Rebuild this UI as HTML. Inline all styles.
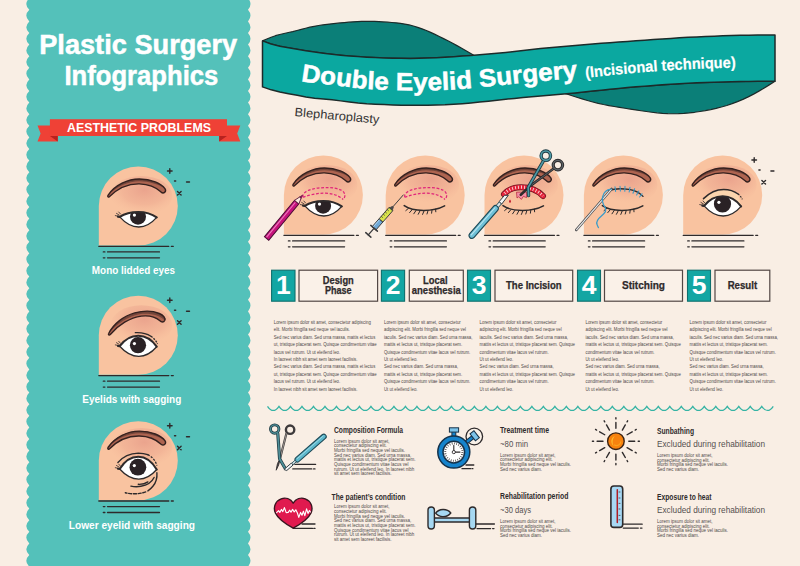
<!DOCTYPE html>
<html lang="en"><head><meta charset="utf-8"><title>Plastic Surgery Infographics</title>
<style>html,body{margin:0;padding:0;background:#F9EEE4;}svg{display:block;}text{font-family:"Liberation Sans", sans-serif;}</style>
</head><body>
<svg width="800" height="566" viewBox="0 0 800 566">
<defs>
<radialGradient id="lid" cx="0.55" cy="0.35" r="0.6"><stop offset="0" stop-color="#E89E8A" stop-opacity="0.85"/><stop offset="0.6" stop-color="#ECA68E" stop-opacity="0.48"/><stop offset="1" stop-color="#F4B89A" stop-opacity="0"/></radialGradient>
</defs>
<rect width="800" height="566" fill="#F9EEE4"/>
<path d="M248,-1.8 Q253,4 248,9.8 Q253,15.6 248,21.4 Q253,27.2 248,33 Q253,38.8 248,44.6 Q253,50.4 248,56.2 Q253,62 248,67.8 Q253,73.6 248,79.4 Q253,85.2 248,91 Q253,96.8 248,102.6 Q253,108.4 248,114.2 Q253,120 248,125.8 Q253,131.6 248,137.4 Q253,143.2 248,149 Q253,154.8 248,160.6 Q253,166.4 248,172.2 Q253,178 248,183.8 Q253,189.6 248,195.4 Q253,201.2 248,207 Q253,212.8 248,218.6 Q253,224.4 248,230.2 Q253,236 248,241.8 Q253,247.6 248,253.4 Q253,259.2 248,265 Q253,270.8 248,276.6 Q253,282.4 248,288.2 Q253,294 248,299.8 Q253,305.6 248,311.4 Q253,317.2 248,323 Q253,328.8 248,334.6 Q253,340.4 248,346.2 Q253,352 248,357.8 Q253,363.6 248,369.4 Q253,375.2 248,381 Q253,386.8 248,392.6 Q253,398.4 248,404.2 Q253,410 248,415.8 Q253,421.6 248,427.4 Q253,433.2 248,439 Q253,444.8 248,450.6 Q253,456.4 248,462.2 Q253,468 248,473.8 Q253,479.6 248,485.4 Q253,491.2 248,497 Q253,502.8 248,508.6 Q253,514.4 248,520.2 Q253,526 248,531.8 Q253,537.6 248,543.4 Q253,549.2 248,555 Q253,560.8 248,566.6 Q253,572.4 248,578.2 L29.3,578.2 Q23.3,572.4 29.3,566.6 Q23.3,560.8 29.3,555 Q23.3,549.2 29.3,543.4 Q23.3,537.6 29.3,531.8 Q23.3,526 29.3,520.2 Q23.3,514.4 29.3,508.6 Q23.3,502.8 29.3,497 Q23.3,491.2 29.3,485.4 Q23.3,479.6 29.3,473.8 Q23.3,468 29.3,462.2 Q23.3,456.4 29.3,450.6 Q23.3,444.8 29.3,439 Q23.3,433.2 29.3,427.4 Q23.3,421.6 29.3,415.8 Q23.3,410 29.3,404.2 Q23.3,398.4 29.3,392.6 Q23.3,386.8 29.3,381 Q23.3,375.2 29.3,369.4 Q23.3,363.6 29.3,357.8 Q23.3,352 29.3,346.2 Q23.3,340.4 29.3,334.6 Q23.3,328.8 29.3,323 Q23.3,317.2 29.3,311.4 Q23.3,305.6 29.3,299.8 Q23.3,294 29.3,288.2 Q23.3,282.4 29.3,276.6 Q23.3,270.8 29.3,265 Q23.3,259.2 29.3,253.4 Q23.3,247.6 29.3,241.8 Q23.3,236 29.3,230.2 Q23.3,224.4 29.3,218.6 Q23.3,212.8 29.3,207 Q23.3,201.2 29.3,195.4 Q23.3,189.6 29.3,183.8 Q23.3,178 29.3,172.2 Q23.3,166.4 29.3,160.6 Q23.3,154.8 29.3,149 Q23.3,143.2 29.3,137.4 Q23.3,131.6 29.3,125.8 Q23.3,120 29.3,114.2 Q23.3,108.4 29.3,102.6 Q23.3,96.8 29.3,91 Q23.3,85.2 29.3,79.4 Q23.3,73.6 29.3,67.8 Q23.3,62 29.3,56.2 Q23.3,50.4 29.3,44.6 Q23.3,38.8 29.3,33 Q23.3,27.2 29.3,21.4 Q23.3,15.6 29.3,9.8 Q23.3,4 29.3,-1.8 Z" fill="#54C1BA"/>
<g fill="#fff" stroke="#fff" stroke-width="0.5" font-weight="bold" text-anchor="middle">
<text x="138.2" y="53.7" font-size="26.8" textLength="198" lengthAdjust="spacingAndGlyphs">Plastic Surgery</text>
<text x="141.4" y="84.6" font-size="26.8" textLength="153.8" lengthAdjust="spacingAndGlyphs">Infographics</text>
</g>
<path d="M37.5,125.5 H57.75 V141.4 H37.5 L40.6,133.4 Z" fill="#EF4136"/>
<path d="M240.3,125.5 H219.2 V141.4 H240.3 L237.2,133.4 Z" fill="#EF4136"/>
<path d="M49.9,135.9 H57.75 V141.4 Z M227,135.9 H219.2 V141.4 Z" fill="#B8221F"/>
<rect x="49.9" y="119.2" width="177.1" height="16.8" fill="#EF4136"/>
<text x="139" y="132.4" font-size="13.6" font-weight="bold" fill="#fff" text-anchor="middle" textLength="144" lengthAdjust="spacingAndGlyphs">AESTHETIC PROBLEMS</text>
<g transform="translate(138.3,206)">
<path d="M-39.5,39.5 L-39.5,0 A39.5,39.5 0 1 1 0,39.5 Z" fill="#F9C3A0"/>
<ellipse cx="3" cy="-10" rx="31" ry="20" fill="url(#lid)"/>
<g>
<path d="M-30.3,-10.6 C-23.5,-21.3 -10,-27 1,-27 C13,-27 23,-22.5 26.8,-17.2 C28.4,-14.2 25.2,-11.8 22.8,-13.9 C17,-19.4 9,-21.9 1,-22.1 C-10,-22.3 -21,-17.2 -29,-9.2 C-30,-8.4 -31,-9.4 -30.3,-10.6 Z" fill="#AE6450"/>
<path d="M-30.3,-10.6 C-23.5,-21.3 -10,-27 1,-27 C13,-27 23,-22.5 26.8,-17.2 C21,-21.6 11,-24.8 1,-24.8 C-10,-24.8 -22,-19.4 -30.3,-10.6 Z" fill="#74453A"/>
<path d="M-30.3,-10.6 C-23.5,-21.3 -10,-27 1,-27 C13,-27 23,-22.5 26.8,-17.2 C28.4,-14.2 25.2,-11.8 22.8,-13.9 C17,-19.4 9,-21.9 1,-22.1 C-10,-22.3 -21,-17.2 -29,-9.2 C-30,-8.4 -31,-9.4 -30.3,-10.6 Z" fill="none" stroke="#35211F" stroke-width="1.4" stroke-linejoin="round"/>
</g>
<g transform="translate(0,0)">
<clipPath id="ec1"><path d="M-18.6,10.9 C-13,7.22 -6,6 0,6 C6.5,6 13,7.51 18.4,11.4 C13,17.6 7,21 0.5,21 C-7,21 -13.5,16.6 -18.6,10.9 Z"/></clipPath>
<path d="M-18.6,10.9 C-13,7.22 -6,6 0,6 C6.5,6 13,7.51 18.4,11.4 C13,17.6 7,21 0.5,21 C-7,21 -13.5,16.6 -18.6,10.9 Z" fill="#fff"/>
<g clip-path="url(#ec1)"><circle cx="-0.3" cy="10.7" r="8" fill="#2A2225"/><circle cx="-3.9" cy="9.1" r="1.6" fill="#fff"/></g>
<path d="M18.4,11.4 C13,17.6 7,21 0.5,21 C-7,21 -13.5,16.6 -18.6,10.9" fill="none" stroke="#2E2A2B" stroke-width="1.3" stroke-linecap="round"/>
<path d="M-20.4,10.6 L-18.6,10.9 C-13,7.22 -6,6 0,6 C6.5,6 13,7.51 18.4,11.4" fill="none" stroke="#2E2A2B" stroke-width="2.1" stroke-linecap="round" stroke-linejoin="round"/>
<path d="M-20,10.2 L-23,9.6 M-19.2,9 L-21.8,7.4 M-17.8,8 L-19.6,6" stroke="#2E2A2B" stroke-width="0.8" stroke-linecap="round"/>
</g>
<g stroke="#2E2A2B" stroke-width="1.4" stroke-linecap="round" fill="none">
<path d="M29.2,-35 H33.8 M31.5,-37.3 V-32.7"/>
<path d="M36.2,-25 H37.4"/>
<path d="M48.2,-24 H51.2"/>
<path d="M39.2,-14.5 L42.8,-11 M42.8,-14.5 L39.2,-11"/>
</g>
<g stroke="#2E2A2B" stroke-width="1.3" stroke-linecap="round" fill="none">
<path d="M-39.5,40.3 H30.5 M33,40.3 H35"/>
<path d="M-35,45.9 H-33.4 M-30.8,45.9 H21.2"/>
<path d="M-35,51.8 H-33.4 M-30.8,51.8 H21.2"/>
</g>
</g>
<text x="133.5" y="273.7" font-size="11.3" font-weight="bold" fill="#fff" text-anchor="middle" textLength="83.3" lengthAdjust="spacingAndGlyphs">Mono lidded eyes</text>
<g transform="translate(138.3,335.3)">
<path d="M-39.5,39.5 L-39.5,0 A39.5,39.5 0 1 1 0,39.5 Z" fill="#F9C3A0"/>
<ellipse cx="3" cy="-10" rx="31" ry="20" fill="url(#lid)"/>
<g>
<path d="M-29.6,-1.8 C-25,-11 -15,-19.3 -3.6,-22.4 C5,-24.7 15,-24.4 21,-21.8 C25,-20 27.6,-17.4 26.4,-14.8 C25.4,-12.8 23,-13 21.6,-14.6 C17,-18.6 10,-20 3,-19.2 C-8,-17.8 -20,-10.4 -28,-0.8 C-29,0.2 -30.4,-0.4 -29.6,-1.8 Z" fill="#AE6450"/>
<path d="M-29.6,-1.8 C-25,-11 -15,-19.3 -3.6,-22.4 C5,-24.7 15,-24.4 21,-21.8 C25,-20 27.6,-17.4 26.4,-14.8 C22,-19.6 12,-22.6 1,-21 C-10,-19.2 -22,-11.2 -29.6,-1.8 Z" fill="#74453A"/>
<path d="M-29.6,-1.8 C-25,-11 -15,-19.3 -3.6,-22.4 C5,-24.7 15,-24.4 21,-21.8 C25,-20 27.6,-17.4 26.4,-14.8 C25.4,-12.8 23,-13 21.6,-14.6 C17,-18.6 10,-20 3,-19.2 C-8,-17.8 -20,-10.4 -28,-0.8 C-29,0.2 -30.4,-0.4 -29.6,-1.8 Z" fill="none" stroke="#35211F" stroke-width="1.4" stroke-linejoin="round"/>
</g>
<path d="M-3,-2.6 C4,-3 9,-1.4 12.6,1" fill="none" stroke="#2E2A2B" stroke-width="1.3" stroke-linecap="round"/>
<path d="M12.6,1 C15.6,3 17.8,5.6 19.2,8.6" fill="none" stroke="#2E2A2B" stroke-width="1.3" stroke-dasharray="2 1.2"/>
<g transform="translate(0,0)">
<clipPath id="ec2"><path d="M-18.6,10.9 C-13,3.03 -6,0.4 0,0.4 C6.5,0.4 13,3.48 18.4,11.4 C13,17.6 7,21 0.5,21 C-7,21 -13.5,16.6 -18.6,10.9 Z"/></clipPath>
<path d="M-18.6,10.9 C-13,3.03 -6,0.4 0,0.4 C6.5,0.4 13,3.48 18.4,11.4 C13,17.6 7,21 0.5,21 C-7,21 -13.5,16.6 -18.6,10.9 Z" fill="#fff"/>
<g clip-path="url(#ec2)"><circle cx="-0.3" cy="9.9" r="8.1" fill="#2A2225"/><circle cx="-3.9" cy="8.3" r="1.6" fill="#fff"/></g>
<path d="M18.4,11.4 C13,17.6 7,21 0.5,21 C-7,21 -13.5,16.6 -18.6,10.9" fill="none" stroke="#2E2A2B" stroke-width="1.3" stroke-linecap="round"/>
<path d="M-20.4,10.6 L-18.6,10.9 C-13,3.03 -6,0.4 0,0.4 C6.5,0.4 13,3.48 18.4,11.4" fill="none" stroke="#2E2A2B" stroke-width="2.1" stroke-linecap="round" stroke-linejoin="round"/>
<path d="M-20,10.2 L-23,9.6 M-19.2,9 L-21.8,7.4 M-17.8,8 L-19.6,6" stroke="#2E2A2B" stroke-width="0.8" stroke-linecap="round"/>
</g>
<g stroke="#2E2A2B" stroke-width="1.4" stroke-linecap="round" fill="none">
<path d="M29.2,-35 H33.8 M31.5,-37.3 V-32.7"/>
<path d="M36.2,-25 H37.4"/>
<path d="M48.2,-24 H51.2"/>
<path d="M39.2,-14.5 L42.8,-11 M42.8,-14.5 L39.2,-11"/>
</g>
<g stroke="#2E2A2B" stroke-width="1.3" stroke-linecap="round" fill="none">
<path d="M-39.5,40.3 H30.5 M33,40.3 H35"/>
<path d="M-35,45.9 H-33.4 M-30.8,45.9 H21.2"/>
<path d="M-35,51.8 H-33.4 M-30.8,51.8 H21.2"/>
</g>
</g>
<text x="131.8" y="402.8" font-size="11.3" font-weight="bold" fill="#fff" text-anchor="middle" textLength="99" lengthAdjust="spacingAndGlyphs">Eyelids with sagging</text>
<g transform="translate(138.3,460.7)">
<path d="M-39.5,39.5 L-39.5,0 A39.5,39.5 0 1 1 0,39.5 Z" fill="#F9C3A0"/>
<ellipse cx="3" cy="-12.6" rx="31" ry="20" fill="url(#lid)"/>
<g transform="translate(0,-2.6)">
<path d="M-30.3,-10.6 C-23.5,-21.3 -10,-27 1,-27 C13,-27 23,-22.5 26.8,-17.2 C28.4,-14.2 25.2,-11.8 22.8,-13.9 C17,-19.4 9,-21.9 1,-22.1 C-10,-22.3 -21,-17.2 -29,-9.2 C-30,-8.4 -31,-9.4 -30.3,-10.6 Z" fill="#AE6450"/>
<path d="M-30.3,-10.6 C-23.5,-21.3 -10,-27 1,-27 C13,-27 23,-22.5 26.8,-17.2 C21,-21.6 11,-24.8 1,-24.8 C-10,-24.8 -22,-19.4 -30.3,-10.6 Z" fill="#74453A"/>
<path d="M-30.3,-10.6 C-23.5,-21.3 -10,-27 1,-27 C13,-27 23,-22.5 26.8,-17.2 C28.4,-14.2 25.2,-11.8 22.8,-13.9 C17,-19.4 9,-21.9 1,-22.1 C-10,-22.3 -21,-17.2 -29,-9.2 C-30,-8.4 -31,-9.4 -30.3,-10.6 Z" fill="none" stroke="#35211F" stroke-width="1.4" stroke-linejoin="round"/>
</g>
<path d="M-20.4,1.8 C-15,-4.5 -8,-7.4 0,-7.6 C4,-7.6 7,-7 9.4,-6" fill="none" stroke="#2E2A2B" stroke-width="1.4" stroke-linecap="round"/>
<path d="M9.4,-6 C14,-4 17.4,0 18.6,5" fill="none" stroke="#2E2A2B" stroke-width="1.3" stroke-dasharray="2.2 1.3"/>
<g fill="none" stroke="#2E2A2B" stroke-width="1.4" stroke-linecap="round">
<path d="M18.6,12 C19,17 17.6,22 14.6,25.6 C13,27.6 11.4,29 9.6,30.2"/>
<path d="M7.4,31.2 C1,33.6 -7,33.6 -13,32" stroke-dasharray="3 1.7"/>
<path d="M15.8,16.8 C13.4,21.6 8.6,24.6 2.6,25.6 C-1,26.2 -4.6,26 -7.4,25.4"/>
<path d="M9.6,21.2 C7,23 3.6,23.8 0,23.6"/>
</g>
<g transform="translate(0,-2.6)">
<clipPath id="ec3"><path d="M-18.6,10.9 C-13,1.67 -6,-1.4 0,-1.4 C6.5,-1.4 13,2.18 18.4,11.4 C13,17.6 7,21 0.5,21 C-7,21 -13.5,16.6 -18.6,10.9 Z"/></clipPath>
<path d="M-18.6,10.9 C-13,1.67 -6,-1.4 0,-1.4 C6.5,-1.4 13,2.18 18.4,11.4 C13,17.6 7,21 0.5,21 C-7,21 -13.5,16.6 -18.6,10.9 Z" fill="#fff"/>
<g clip-path="url(#ec3)"><circle cx="-0.4" cy="9.1" r="8.4" fill="#2A2225"/><circle cx="-4" cy="7.5" r="1.6" fill="#fff"/></g>
<path d="M18.4,11.4 C13,17.6 7,21 0.5,21 C-7,21 -13.5,16.6 -18.6,10.9" fill="none" stroke="#2E2A2B" stroke-width="1.3" stroke-linecap="round"/>
<path d="M-20.4,10.6 L-18.6,10.9 C-13,1.67 -6,-1.4 0,-1.4 C6.5,-1.4 13,2.18 18.4,11.4" fill="none" stroke="#2E2A2B" stroke-width="2.1" stroke-linecap="round" stroke-linejoin="round"/>
<path d="M-20,10.2 L-23,9.6 M-19.2,9 L-21.8,7.4 M-17.8,8 L-19.6,6" stroke="#2E2A2B" stroke-width="0.8" stroke-linecap="round"/>
</g>
<g stroke="#2E2A2B" stroke-width="1.4" stroke-linecap="round" fill="none">
<path d="M29.2,-35 H33.8 M31.5,-37.3 V-32.7"/>
<path d="M36.2,-25 H37.4"/>
<path d="M48.2,-24 H51.2"/>
<path d="M39.2,-14.5 L42.8,-11 M42.8,-14.5 L39.2,-11"/>
</g>
<g stroke="#2E2A2B" stroke-width="1.3" stroke-linecap="round" fill="none">
<path d="M-39.5,40.3 H30.5 M33,40.3 H35"/>
<path d="M-35,45.9 H-33.4 M-30.8,45.9 H21.2"/>
<path d="M-35,51.8 H-33.4 M-30.8,51.8 H21.2"/>
</g>
</g>
<text x="131.9" y="529" font-size="11.3" font-weight="bold" fill="#fff" text-anchor="middle" textLength="126.3" lengthAdjust="spacingAndGlyphs">Lower eyelid with sagging</text>
<path d="M262.5,40.9 L266.81,38.99 L271.12,37.21 L275.43,35.7 L279.74,34.48 L284.06,33.46 L288.37,32.52 L292.68,31.56 L296.99,30.49 L301.3,29.36 L305.61,28.24 L309.92,27.2 L314.23,26.29 L318.55,25.53 L322.86,24.89 L327.17,24.33 L331.48,23.83 L335.79,23.38 L340.1,22.96 L344.41,22.57 L348.72,22.2 L353.04,21.87 L357.35,21.58 L361.66,21.37 L365.97,21.26 L370.28,21.28 L374.59,21.41 L378.9,21.63 L383.21,21.9 L387.53,22.18 L391.84,22.48 L396.15,22.85 L400.46,23.36 L404.77,24.06 L409.08,24.95 L413.39,26.04 L417.7,27.35 L422.02,28.85 L426.33,30.54 L430.64,32.4 L434.95,34.38 L439.26,36.45 L443.57,38.59 L447.88,40.79 L452.19,43.06 L456.51,45.4 L460.82,47.8 L465.13,50.25 L469.44,52.74 L473.75,55.25 L473.75,55.25 L466.47,55.79 L459.18,56.31 L451.9,56.79 L444.61,57.23 L437.33,57.61 L430.04,57.93 L422.76,58.18 L415.47,58.34 L408.19,58.41 L400.91,58.36 L393.62,58.22 L386.34,58 L379.05,57.74 L371.77,57.42 L364.48,57.03 L357.2,56.56 L349.91,56 L342.63,55.33 L335.34,54.59 L328.06,53.78 L320.78,52.92 L313.49,51.94 L306.21,50.78 L298.92,49.51 L291.64,48.26 L284.35,47.04 L277.07,45.56 L269.78,43.48 L262.5,40.9 Z" fill="#0B7F78" stroke="#1C2B2A" stroke-width="1.2" stroke-linejoin="round"/>
<path d="M566,93.75 L571.36,95.5 L576.72,97.22 L582.08,98.89 L587.44,100.48 L592.79,101.96 L598.15,103.32 L603.51,104.52 L608.87,105.57 L614.23,106.52 L619.59,107.39 L624.95,108.22 L630.31,109.05 L635.67,109.89 L641.03,110.72 L646.38,111.51 L651.74,112.22 L657.1,112.83 L662.46,113.31 L667.82,113.62 L673.18,113.75 L678.54,113.67 L683.9,113.38 L689.26,112.91 L694.62,112.28 L699.97,111.5 L705.33,110.61 L710.69,109.58 L716.05,108.39 L721.41,107.02 L726.77,105.46 L732.13,103.68 L737.49,101.67 L742.85,99.41 L748.21,96.9 L753.56,94.12 L758.92,91.11 L764.28,87.92 L769.64,84.62 L775,81.25 L775,81.25 L767.79,81.28 L760.59,81.32 L753.38,81.37 L746.17,81.44 L738.97,81.55 L731.76,81.69 L724.55,81.85 L717.34,82.06 L710.14,82.3 L702.93,82.58 L695.72,82.89 L688.52,83.25 L681.31,83.65 L674.1,84.08 L666.9,84.54 L659.69,85.04 L652.48,85.56 L645.28,86.11 L638.07,86.69 L630.86,87.3 L623.66,87.94 L616.45,88.61 L609.24,89.33 L602.03,90.08 L594.83,90.87 L587.62,91.68 L580.41,92.46 L573.21,93.17 L566,93.84 Z" fill="#0B7F78" stroke="#1C2B2A" stroke-width="1.2" stroke-linejoin="round"/>
<path d="M262.5,40.9 L271.19,43.93 L279.87,46.18 L288.56,47.75 L297.25,49.21 L305.93,50.73 L314.62,52.1 L323.31,53.23 L331.99,54.22 L340.68,55.14 L349.36,55.95 L358.05,56.62 L366.74,57.16 L375.42,57.59 L384.11,57.93 L392.8,58.2 L401.48,58.37 L410.17,58.4 L418.86,58.28 L427.54,58.02 L436.23,57.66 L444.92,57.21 L453.6,56.68 L462.29,56.09 L470.97,55.46 L479.66,54.79 L488.35,54.08 L497.03,53.29 L505.72,52.41 L514.41,51.45 L523.09,50.47 L531.78,49.51 L540.47,48.59 L549.15,47.73 L557.84,46.91 L566.53,46.13 L575.21,45.39 L583.9,44.69 L592.58,44 L601.27,43.34 L609.96,42.7 L618.64,42.07 L627.33,41.44 L636.02,40.82 L644.7,40.19 L653.39,39.58 L662.08,38.99 L670.76,38.42 L679.45,37.87 L688.14,37.37 L696.82,36.91 L705.51,36.49 L714.19,36.13 L722.88,35.83 L731.57,35.57 L740.25,35.37 L748.94,35.21 L757.63,35.11 L766.31,35.05 L775,35 L775,81.25 L766.31,81.29 L757.63,81.33 L748.94,81.41 L740.25,81.53 L731.57,81.69 L722.88,81.9 L714.19,82.16 L705.51,82.47 L696.82,82.84 L688.14,83.27 L679.45,83.76 L670.76,84.29 L662.08,84.87 L653.39,85.5 L644.7,86.16 L636.02,86.86 L627.33,87.61 L618.64,88.41 L609.96,89.25 L601.27,90.16 L592.58,91.12 L583.9,92.09 L575.21,92.98 L566.53,93.79 L557.84,94.54 L549.15,95.26 L540.47,95.99 L531.78,96.74 L523.09,97.55 L514.41,98.41 L505.72,99.31 L497.03,100.22 L488.35,101.14 L479.66,102.03 L470.97,102.89 L462.29,103.66 L453.6,104.32 L444.92,104.8 L436.23,105.08 L427.54,105.22 L418.86,105.29 L410.17,105.3 L401.48,105.19 L392.8,104.94 L384.11,104.62 L375.42,104.23 L366.74,103.69 L358.05,102.94 L349.36,101.98 L340.68,100.87 L331.99,99.81 L323.31,98.99 L314.62,98.17 L305.93,96.92 L297.25,95.3 L288.56,93.7 L279.87,92.08 L271.19,89.85 L262.5,86.9 Z" fill="#0BA8A0" stroke="#1C2B2A" stroke-width="1.5" stroke-linejoin="round"/>
<path id="tp" d="M290,79.15 L297.97,80.63 L305.93,82.12 L313.9,83.29 L321.86,84.07 L329.83,84.78 L337.8,85.7 L345.76,86.72 L353.73,87.68 L361.69,88.48 L369.66,89.1 L377.63,89.54 L385.59,89.87 L393.56,90.17 L401.53,90.39 L409.49,90.49 L417.46,90.49 L425.42,90.44 L433.39,90.34 L441.36,90.14 L449.32,89.78 L457.29,89.26 L465.25,88.61 L473.22,87.87 L481.19,87.08 L489.15,86.25 L497.12,85.42 L505.08,84.58 L513.05,83.75 L521.02,82.95 L528.98,82.19 L536.95,81.48 L544.92,80.81 L552.88,80.15 L560.85,79.48 L568.81,78.78 L576.78,78.03 L584.75,77.19 L592.71,76.31 L600.68,75.43 L608.64,74.59 L616.61,73.8 L624.58,73.06 L632.54,72.35 L640.51,71.69 L648.47,71.07 L656.44,70.47 L664.41,69.91 L672.37,69.39 L680.34,68.9 L688.31,68.46 L696.27,68.07 L704.24,67.72 L712.2,67.42 L720.17,67.17 L728.14,66.97 L736.1,66.8 L744.07,66.67 L752.03,66.58 L760,66.52" fill="none"/>
<text font-size="25" font-weight="bold" fill="#fff" stroke="#fff" stroke-width="0.5"><textPath href="#tp" startOffset="11" textLength="278" lengthAdjust="spacingAndGlyphs">Double Eyelid Surgery</textPath></text>
<path id="tp2" d="M290,79.95 L297.97,81.43 L305.93,82.92 L313.9,84.09 L321.86,84.87 L329.83,85.58 L337.8,86.5 L345.76,87.52 L353.73,88.48 L361.69,89.28 L369.66,89.9 L377.63,90.34 L385.59,90.67 L393.56,90.97 L401.53,91.19 L409.49,91.29 L417.46,91.29 L425.42,91.24 L433.39,91.14 L441.36,90.94 L449.32,90.58 L457.29,90.06 L465.25,89.41 L473.22,88.67 L481.19,87.88 L489.15,87.05 L497.12,86.22 L505.08,85.38 L513.05,84.55 L521.02,83.75 L528.98,82.99 L536.95,82.28 L544.92,81.61 L552.88,80.95 L560.85,80.28 L568.81,79.58 L576.78,78.83 L584.75,77.99 L592.71,77.11 L600.68,76.23 L608.64,75.39 L616.61,74.6 L624.58,73.86 L632.54,73.15 L640.51,72.49 L648.47,71.87 L656.44,71.27 L664.41,70.71 L672.37,70.19 L680.34,69.7 L688.31,69.26 L696.27,68.87 L704.24,68.52 L712.2,68.22 L720.17,67.97 L728.14,67.77 L736.1,67.6 L744.07,67.47 L752.03,67.38 L760,67.32" fill="none"/>
<text font-size="15.6" font-weight="bold" fill="#fff" stroke="#fff" stroke-width="0.2"><textPath href="#tp2" startOffset="297" textLength="150.5" lengthAdjust="spacingAndGlyphs">(Incisional technique)</textPath></text>
<text x="294.3" y="116" font-size="12.2" fill="#333" transform="rotate(5.2 294.3 116)" textLength="85" lengthAdjust="spacingAndGlyphs">Blepharoplasty</text>
<g transform="translate(323.4,195)">
<path d="M-39.5,39.5 L-39.5,0 A39.5,39.5 0 1 1 0,39.5 Z" fill="#F9C3A0"/>
<ellipse cx="3" cy="-10" rx="31" ry="20" fill="url(#lid)"/>
<g>
<path d="M-30.3,-10.6 C-23.5,-21.3 -10,-27 1,-27 C13,-27 23,-22.5 26.8,-17.2 C28.4,-14.2 25.2,-11.8 22.8,-13.9 C17,-19.4 9,-21.9 1,-22.1 C-10,-22.3 -21,-17.2 -29,-9.2 C-30,-8.4 -31,-9.4 -30.3,-10.6 Z" fill="#AE6450"/>
<path d="M-30.3,-10.6 C-23.5,-21.3 -10,-27 1,-27 C13,-27 23,-22.5 26.8,-17.2 C21,-21.6 11,-24.8 1,-24.8 C-10,-24.8 -22,-19.4 -30.3,-10.6 Z" fill="#74453A"/>
<path d="M-30.3,-10.6 C-23.5,-21.3 -10,-27 1,-27 C13,-27 23,-22.5 26.8,-17.2 C28.4,-14.2 25.2,-11.8 22.8,-13.9 C17,-19.4 9,-21.9 1,-22.1 C-10,-22.3 -21,-17.2 -29,-9.2 C-30,-8.4 -31,-9.4 -30.3,-10.6 Z" fill="none" stroke="#35211F" stroke-width="1.4" stroke-linejoin="round"/>
</g>
<g stroke="#E0247A" stroke-width="1.25" fill="none" stroke-dasharray="2.8 1.7" stroke-linecap="butt" transform="translate(0,0.8)">
<path d="M-20.4,1.4 C-21.5,-2 -17,-5.6 -10,-7 C0,-9 12,-8.6 18,-5.6 C22,-3.4 22.5,1 19.8,3.6"/>
<path d="M-20.4,1.4 C-14,-0.8 -6,-2.8 2,-2.6 C9,-2.4 15,-0.4 19.8,3.6"/>
</g>
<g transform="translate(0,0)">
<clipPath id="ec4"><path d="M-18.6,10.9 C-13,7.22 -6,6 0,6 C6.5,6 13,7.51 18.4,11.4 C13,17.6 7,21 0.5,21 C-7,21 -13.5,16.6 -18.6,10.9 Z"/></clipPath>
<path d="M-18.6,10.9 C-13,7.22 -6,6 0,6 C6.5,6 13,7.51 18.4,11.4 C13,17.6 7,21 0.5,21 C-7,21 -13.5,16.6 -18.6,10.9 Z" fill="#fff"/>
<g clip-path="url(#ec4)"><circle cx="-0.3" cy="10.7" r="8" fill="#2A2225"/><circle cx="-3.9" cy="9.1" r="1.6" fill="#fff"/></g>
<path d="M18.4,11.4 C13,17.6 7,21 0.5,21 C-7,21 -13.5,16.6 -18.6,10.9" fill="none" stroke="#2E2A2B" stroke-width="1.3" stroke-linecap="round"/>
<path d="M-20.4,10.6 L-18.6,10.9 C-13,7.22 -6,6 0,6 C6.5,6 13,7.51 18.4,11.4" fill="none" stroke="#2E2A2B" stroke-width="2.1" stroke-linecap="round" stroke-linejoin="round"/>
<path d="M-20,10.2 L-23,9.6 M-19.2,9 L-21.8,7.4 M-17.8,8 L-19.6,6" stroke="#2E2A2B" stroke-width="0.8" stroke-linecap="round"/>
</g>
<g stroke="#2E2A2B" stroke-width="1.3" stroke-linecap="round" fill="none">
<path d="M-39.5,40.3 H30.5 M33,40.3 H35"/>
<path d="M-35,45.9 H-33.4 M-30.8,45.9 H21.2"/>
<path d="M-35,51.8 H-33.4 M-30.8,51.8 H21.2"/>
</g>
</g>
<g transform="translate(425.2,195)">
<path d="M-39.5,39.5 L-39.5,0 A39.5,39.5 0 1 1 0,39.5 Z" fill="#F9C3A0"/>
<ellipse cx="3" cy="-10" rx="31" ry="20" fill="url(#lid)"/>
<g>
<path d="M-30.3,-10.6 C-23.5,-21.3 -10,-27 1,-27 C13,-27 23,-22.5 26.8,-17.2 C28.4,-14.2 25.2,-11.8 22.8,-13.9 C17,-19.4 9,-21.9 1,-22.1 C-10,-22.3 -21,-17.2 -29,-9.2 C-30,-8.4 -31,-9.4 -30.3,-10.6 Z" fill="#AE6450"/>
<path d="M-30.3,-10.6 C-23.5,-21.3 -10,-27 1,-27 C13,-27 23,-22.5 26.8,-17.2 C21,-21.6 11,-24.8 1,-24.8 C-10,-24.8 -22,-19.4 -30.3,-10.6 Z" fill="#74453A"/>
<path d="M-30.3,-10.6 C-23.5,-21.3 -10,-27 1,-27 C13,-27 23,-22.5 26.8,-17.2 C28.4,-14.2 25.2,-11.8 22.8,-13.9 C17,-19.4 9,-21.9 1,-22.1 C-10,-22.3 -21,-17.2 -29,-9.2 C-30,-8.4 -31,-9.4 -30.3,-10.6 Z" fill="none" stroke="#35211F" stroke-width="1.4" stroke-linejoin="round"/>
</g>
<g stroke="#E0247A" stroke-width="1.25" fill="none" stroke-dasharray="2.8 1.7" stroke-linecap="butt" transform="translate(0,0.8)">
<path d="M-20.4,1.4 C-21.5,-2 -17,-5.6 -10,-7 C0,-9 12,-8.6 18,-5.6 C22,-3.4 22.5,1 19.8,3.6"/>
<path d="M-20.4,1.4 C-14,-0.8 -6,-2.8 2,-2.6 C9,-2.4 15,-0.4 19.8,3.6"/>
</g>
<g stroke="#2E2A2B" fill="none" stroke-linecap="round">
<path d="M-21,10.7 C-12,17 8,17 19.4,10.9" stroke-width="1.6"/>
<path d="M-16.6,13.2 L-19.4,15.6 M-13,14.6 L-15.6,17.6 M-9.2,15.5 L-11.4,18.8 M-5.2,15.9 L-7,19.3 M-1.2,16 L-2.6,19.4 M2.8,15.7 L1.8,19 M6.8,15 L6.4,18.2 M10.4,14.1 L10.6,16.8" stroke-width="1"/>
</g>
<g stroke="#2E2A2B" stroke-width="1.3" stroke-linecap="round" fill="none">
<path d="M-39.5,40.3 H30.5 M33,40.3 H35"/>
<path d="M-35,45.9 H-33.4 M-30.8,45.9 H21.2"/>
<path d="M-35,51.8 H-33.4 M-30.8,51.8 H21.2"/>
</g>
</g>
<g transform="translate(524,195)">
<path d="M-39.5,39.5 L-39.5,0 A39.5,39.5 0 1 1 0,39.5 Z" fill="#F9C3A0"/>
<ellipse cx="3" cy="-10" rx="31" ry="20" fill="url(#lid)"/>
<g>
<path d="M-30.3,-10.6 C-23.5,-21.3 -10,-27 1,-27 C13,-27 23,-22.5 26.8,-17.2 C28.4,-14.2 25.2,-11.8 22.8,-13.9 C17,-19.4 9,-21.9 1,-22.1 C-10,-22.3 -21,-17.2 -29,-9.2 C-30,-8.4 -31,-9.4 -30.3,-10.6 Z" fill="#AE6450"/>
<path d="M-30.3,-10.6 C-23.5,-21.3 -10,-27 1,-27 C13,-27 23,-22.5 26.8,-17.2 C21,-21.6 11,-24.8 1,-24.8 C-10,-24.8 -22,-19.4 -30.3,-10.6 Z" fill="#74453A"/>
<path d="M-30.3,-10.6 C-23.5,-21.3 -10,-27 1,-27 C13,-27 23,-22.5 26.8,-17.2 C28.4,-14.2 25.2,-11.8 22.8,-13.9 C17,-19.4 9,-21.9 1,-22.1 C-10,-22.3 -21,-17.2 -29,-9.2 C-30,-8.4 -31,-9.4 -30.3,-10.6 Z" fill="none" stroke="#35211F" stroke-width="1.4" stroke-linejoin="round"/>
</g>
<g stroke="#2E2A2B" fill="none" stroke-linecap="round">
<path d="M-21,10.7 C-12,17 8,17 19.4,10.9" stroke-width="1.6"/>
<path d="M-16.6,13.2 L-19.4,15.6 M-13,14.6 L-15.6,17.6 M-9.2,15.5 L-11.4,18.8 M-5.2,15.9 L-7,19.3 M-1.2,16 L-2.6,19.4 M2.8,15.7 L1.8,19 M6.8,15 L6.4,18.2 M10.4,14.1 L10.6,16.8" stroke-width="1"/>
</g>
<g stroke="#2E2A2B" stroke-width="1.3" stroke-linecap="round" fill="none">
<path d="M-39.5,40.3 H30.5 M33,40.3 H35"/>
<path d="M-35,45.9 H-33.4 M-30.8,45.9 H21.2"/>
<path d="M-35,51.8 H-33.4 M-30.8,51.8 H21.2"/>
</g>
</g>
<g transform="translate(623.4,195)">
<path d="M-39.5,39.5 L-39.5,0 A39.5,39.5 0 1 1 0,39.5 Z" fill="#F9C3A0"/>
<ellipse cx="3" cy="-10" rx="31" ry="20" fill="url(#lid)"/>
<g>
<path d="M-30.3,-10.6 C-23.5,-21.3 -10,-27 1,-27 C13,-27 23,-22.5 26.8,-17.2 C28.4,-14.2 25.2,-11.8 22.8,-13.9 C17,-19.4 9,-21.9 1,-22.1 C-10,-22.3 -21,-17.2 -29,-9.2 C-30,-8.4 -31,-9.4 -30.3,-10.6 Z" fill="#AE6450"/>
<path d="M-30.3,-10.6 C-23.5,-21.3 -10,-27 1,-27 C13,-27 23,-22.5 26.8,-17.2 C21,-21.6 11,-24.8 1,-24.8 C-10,-24.8 -22,-19.4 -30.3,-10.6 Z" fill="#74453A"/>
<path d="M-30.3,-10.6 C-23.5,-21.3 -10,-27 1,-27 C13,-27 23,-22.5 26.8,-17.2 C28.4,-14.2 25.2,-11.8 22.8,-13.9 C17,-19.4 9,-21.9 1,-22.1 C-10,-22.3 -21,-17.2 -29,-9.2 C-30,-8.4 -31,-9.4 -30.3,-10.6 Z" fill="none" stroke="#35211F" stroke-width="1.4" stroke-linejoin="round"/>
</g>
<g stroke="#2E2A2B" fill="none" stroke-linecap="round">
<path d="M-21,10.7 C-12,17 8,17 19.4,10.9" stroke-width="1.6"/>
<path d="M-16.6,13.2 L-19.4,15.6 M-13,14.6 L-15.6,17.6 M-9.2,15.5 L-11.4,18.8 M-5.2,15.9 L-7,19.3 M-1.2,16 L-2.6,19.4 M2.8,15.7 L1.8,19 M6.8,15 L6.4,18.2 M10.4,14.1 L10.6,16.8" stroke-width="1"/>
</g>
<g stroke="#2E2A2B" stroke-width="1.3" stroke-linecap="round" fill="none">
<path d="M-39.5,40.3 H30.5 M33,40.3 H35"/>
<path d="M-35,45.9 H-33.4 M-30.8,45.9 H21.2"/>
<path d="M-35,51.8 H-33.4 M-30.8,51.8 H21.2"/>
</g>
</g>
<g transform="translate(722.7,195)">
<path d="M-39.5,39.5 L-39.5,0 A39.5,39.5 0 1 1 0,39.5 Z" fill="#F9C3A0"/>
<ellipse cx="3" cy="-10" rx="31" ry="20" fill="url(#lid)"/>
<g>
<path d="M-30.3,-10.6 C-23.5,-21.3 -10,-27 1,-27 C13,-27 23,-22.5 26.8,-17.2 C28.4,-14.2 25.2,-11.8 22.8,-13.9 C17,-19.4 9,-21.9 1,-22.1 C-10,-22.3 -21,-17.2 -29,-9.2 C-30,-8.4 -31,-9.4 -30.3,-10.6 Z" fill="#AE6450"/>
<path d="M-30.3,-10.6 C-23.5,-21.3 -10,-27 1,-27 C13,-27 23,-22.5 26.8,-17.2 C21,-21.6 11,-24.8 1,-24.8 C-10,-24.8 -22,-19.4 -30.3,-10.6 Z" fill="#74453A"/>
<path d="M-30.3,-10.6 C-23.5,-21.3 -10,-27 1,-27 C13,-27 23,-22.5 26.8,-17.2 C28.4,-14.2 25.2,-11.8 22.8,-13.9 C17,-19.4 9,-21.9 1,-22.1 C-10,-22.3 -21,-17.2 -29,-9.2 C-30,-8.4 -31,-9.4 -30.3,-10.6 Z" fill="none" stroke="#35211F" stroke-width="1.4" stroke-linejoin="round"/>
</g>
<path d="M-19.2,3.6 C-13,-2.6 -6,-5.6 1,-5.6 C7,-5.6 12,-3.6 15.4,-1 L18.4,11.4 C13,4 6,1.2 0,1.2 C-7,1.2 -14,5 -18.6,10.9 Z" fill="#FBD5AE"/>
<path d="M-19.2,3.6 C-13,-2.6 -6,-5.6 1,-5.6 C7,-5.6 12,-3.6 15.4,-1" fill="none" stroke="#2E2A2B" stroke-width="1.5" stroke-linecap="round"/>
<path d="M15.4,-1 C17.4,0.6 18.8,2.4 19.6,4.4" fill="none" stroke="#2E2A2B" stroke-width="1.1" stroke-dasharray="1.8 1.2"/>
<g transform="translate(0,0)">
<clipPath id="ec5"><path d="M-18.6,10.9 C-13,3.62 -6,1.2 0,1.2 C6.5,1.2 13,4.06 18.4,11.4 C13,17.6 7,21 0.5,21 C-7,21 -13.5,16.6 -18.6,10.9 Z"/></clipPath>
<path d="M-18.6,10.9 C-13,3.62 -6,1.2 0,1.2 C6.5,1.2 13,4.06 18.4,11.4 C13,17.6 7,21 0.5,21 C-7,21 -13.5,16.6 -18.6,10.9 Z" fill="#fff"/>
<g clip-path="url(#ec5)"><circle cx="-0.2" cy="8.9" r="8.6" fill="#2A2225"/><circle cx="-3.8" cy="7.3" r="1.6" fill="#fff"/></g>
<path d="M18.4,11.4 C13,17.6 7,21 0.5,21 C-7,21 -13.5,16.6 -18.6,10.9" fill="none" stroke="#2E2A2B" stroke-width="1.3" stroke-linecap="round"/>
<path d="M-20.4,10.6 L-18.6,10.9 C-13,3.62 -6,1.2 0,1.2 C6.5,1.2 13,4.06 18.4,11.4" fill="none" stroke="#2E2A2B" stroke-width="2.1" stroke-linecap="round" stroke-linejoin="round"/>
<path d="M-20,10.2 L-23,9.6 M-19.2,9 L-21.8,7.4 M-17.8,8 L-19.6,6" stroke="#2E2A2B" stroke-width="0.8" stroke-linecap="round"/>
</g>
<g stroke="#2E2A2B" stroke-width="1.4" stroke-linecap="round" fill="none">
<path d="M29.2,-35 H33.8 M31.5,-37.3 V-32.7"/>
<path d="M36.2,-25 H37.4"/>
<path d="M48.2,-24 H51.2"/>
<path d="M39.2,-14.5 L42.8,-11 M42.8,-14.5 L39.2,-11"/>
</g>
<g stroke="#2E2A2B" stroke-width="1.3" stroke-linecap="round" fill="none">
<path d="M-39.5,40.3 H30.5 M33,40.3 H35"/>
<path d="M-35,45.9 H-33.4 M-30.8,45.9 H21.2"/>
<path d="M-35,51.8 H-33.4 M-30.8,51.8 H21.2"/>
</g>
</g>
<rect x="271.6" y="270.2" width="23.4" height="31" fill="#13A6A3" stroke="#0F706E" stroke-width="1.1"/>
<text x="283.3" y="294.3" font-size="26.5" font-weight="bold" fill="#fff" text-anchor="middle">1</text>
<rect x="299" y="270.2" width="78.6" height="31" fill="#FAF1E8" stroke="#524744" stroke-width="1.2"/>
<text x="338.3" y="283.9" font-size="10.4" font-weight="bold" fill="#2E2A2B" stroke="#2E2A2B" stroke-width="0.25" text-anchor="middle" textLength="31" lengthAdjust="spacingAndGlyphs">Design</text>
<text x="338.3" y="293.9" font-size="10.4" font-weight="bold" fill="#2E2A2B" stroke="#2E2A2B" stroke-width="0.25" text-anchor="middle" textLength="26.6" lengthAdjust="spacingAndGlyphs">Phase</text>
<rect x="381.4" y="270.2" width="23.2" height="31" fill="#13A6A3" stroke="#0F706E" stroke-width="1.1"/>
<text x="393" y="294.3" font-size="26.5" font-weight="bold" fill="#fff" text-anchor="middle">2</text>
<rect x="409.3" y="270.2" width="54" height="31" fill="#FAF1E8" stroke="#524744" stroke-width="1.2"/>
<text x="435.3" y="283.9" font-size="10.4" font-weight="bold" fill="#2E2A2B" stroke="#2E2A2B" stroke-width="0.25" text-anchor="middle" textLength="24.5" lengthAdjust="spacingAndGlyphs">Local</text>
<text x="436.3" y="293.9" font-size="10.4" font-weight="bold" fill="#2E2A2B" stroke="#2E2A2B" stroke-width="0.25" text-anchor="middle" textLength="49" lengthAdjust="spacingAndGlyphs">anesthesia</text>
<rect x="467.5" y="270.2" width="23" height="31" fill="#13A6A3" stroke="#0F706E" stroke-width="1.1"/>
<text x="479" y="294.3" font-size="26.5" font-weight="bold" fill="#fff" text-anchor="middle">3</text>
<rect x="495" y="270.2" width="77.7" height="31" fill="#FAF1E8" stroke="#524744" stroke-width="1.2"/>
<text x="533.85" y="288.8" font-size="10.4" font-weight="bold" fill="#2E2A2B" stroke="#2E2A2B" stroke-width="0.25" text-anchor="middle" textLength="55.6" lengthAdjust="spacingAndGlyphs">The Incision</text>
<rect x="577.5" y="270.2" width="23" height="31" fill="#13A6A3" stroke="#0F706E" stroke-width="1.1"/>
<text x="589" y="294.3" font-size="26.5" font-weight="bold" fill="#fff" text-anchor="middle">4</text>
<rect x="604.5" y="270.2" width="78" height="31" fill="#FAF1E8" stroke="#524744" stroke-width="1.2"/>
<text x="643.5" y="288.8" font-size="10.4" font-weight="bold" fill="#2E2A2B" stroke="#2E2A2B" stroke-width="0.25" text-anchor="middle" textLength="43" lengthAdjust="spacingAndGlyphs">Stitching</text>
<rect x="687.5" y="270.2" width="23" height="31" fill="#13A6A3" stroke="#0F706E" stroke-width="1.1"/>
<text x="699" y="294.3" font-size="26.5" font-weight="bold" fill="#fff" text-anchor="middle">5</text>
<rect x="715" y="270.2" width="54.8" height="31" fill="#FAF1E8" stroke="#524744" stroke-width="1.2"/>
<text x="742.4" y="288.8" font-size="10.4" font-weight="bold" fill="#2E2A2B" stroke="#2E2A2B" stroke-width="0.25" text-anchor="middle" textLength="29.5" lengthAdjust="spacingAndGlyphs">Result</text>
<g font-size="4.6" fill="#4E4848">
<g transform="translate(273.8,0) scale(0.94,1)">
<text x="0" y="323.8">Lorem ipsum dolor sit amet, consectetur adipiscing</text>
<text x="0" y="331.24">elit. Morbi fringilla sed neque vel iaculis.</text>
<text x="0" y="338.68" textLength="108" lengthAdjust="spacingAndGlyphs">Sed nec varius diam. Sed urna massa, mattis et lectus</text>
<text x="0" y="346.12">ut, tristique placerat sem. Quisque condimentum vitae</text>
<text x="0" y="353.56">lacus vel rutrum. Ut ut eleifend leo.</text>
<text x="0" y="361">In laoreet nibh sit amet sem laoreet facilisis.</text>
<text x="0" y="368.44" textLength="108" lengthAdjust="spacingAndGlyphs">Sed nec varius diam. Sed urna massa, mattis et lectus</text>
<text x="0" y="375.88">ut, tristique placerat sem. Quisque condimentum vitae</text>
<text x="0" y="383.32">lacus vel rutrum. Ut ut eleifend leo.</text>
<text x="0" y="390.76">In laoreet nibh sit amet sem laoreet facilisis.</text>
</g>
<g transform="translate(384,0) scale(0.94,1)">
<text x="0" y="323.8">Lorem ipsum dolor sit amet, consectetur</text>
<text x="0" y="331.24">adipiscing elit. Morbi fringilla sed neque vel</text>
<text x="0" y="338.68">iaculis. Sed nec varius diam. Sed urna massa,</text>
<text x="0" y="346.12">mattis et lectus ut, tristique placerat sem.</text>
<text x="0" y="353.56">Quisque condimentum vitae lacus vel rutrum.</text>
<text x="0" y="361">Ut ut eleifend leo.</text>
<text x="0" y="368.44">Sed nec varius diam. Sed urna massa,</text>
<text x="0" y="375.88">mattis et lectus ut, tristique placerat sem.</text>
<text x="0" y="383.32">Quisque condimentum vitae lacus vel rutrum.</text>
<text x="0" y="390.76">Ut ut eleifend leo.</text>
</g>
<g transform="translate(479.6,0) scale(0.94,1)">
<text x="0" y="323.8">Lorem ipsum dolor sit amet, consectetur</text>
<text x="0" y="331.24">adipiscing elit. Morbi fringilla sed neque vel</text>
<text x="0" y="338.68">iaculis. Sed nec varius diam. Sed urna massa,</text>
<text x="0" y="346.12">mattis et lectus ut, tristique placerat sem. Quisque</text>
<text x="0" y="353.56">condimentum vitae lacus vel rutrum.</text>
<text x="0" y="361">Ut ut eleifend leo.</text>
<text x="0" y="368.44">Sed nec varius diam. Sed urna massa,</text>
<text x="0" y="375.88">mattis et lectus ut, tristique placerat sem. Quisque</text>
<text x="0" y="383.32">condimentum vitae lacus vel rutrum.</text>
<text x="0" y="390.76">Ut ut eleifend leo.</text>
</g>
<g transform="translate(585.5,0) scale(0.94,1)">
<text x="0" y="323.8">Lorem ipsum dolor sit amet, consectetur</text>
<text x="0" y="331.24">adipiscing elit. Morbi fringilla sed neque vel</text>
<text x="0" y="338.68">iaculis. Sed nec varius diam. Sed urna massa,</text>
<text x="0" y="346.12">mattis et lectus ut, tristique placerat sem. Quisque</text>
<text x="0" y="353.56">condimentum vitae lacus vel rutrum.</text>
<text x="0" y="361">Ut ut eleifend leo.</text>
<text x="0" y="368.44">Sed nec varius diam. Sed urna massa,</text>
<text x="0" y="375.88">mattis et lectus ut, tristique placerat sem. Quisque</text>
<text x="0" y="383.32">condimentum vitae lacus vel rutrum.</text>
<text x="0" y="390.76">Ut ut eleifend leo.</text>
</g>
<g transform="translate(689.6,0) scale(0.94,1)">
<text x="0" y="323.8">Lorem ipsum dolor sit amet, consectetur</text>
<text x="0" y="331.24">adipiscing elit. Morbi fringilla sed neque vel</text>
<text x="0" y="338.68">iaculis. Sed nec varius diam. Sed urna massa,</text>
<text x="0" y="346.12">mattis et lectus ut, tristique placerat sem.</text>
<text x="0" y="353.56">Quisque condimentum vitae lacus vel rutrum.</text>
<text x="0" y="361">Ut ut eleifend leo.</text>
<text x="0" y="368.44">Sed nec varius diam. Sed urna massa,</text>
<text x="0" y="375.88">mattis et lectus ut, tristique placerat sem.</text>
<text x="0" y="383.32">Quisque condimentum vitae lacus vel rutrum.</text>
<text x="0" y="390.76">Ut ut eleifend leo.</text>
</g>
</g>
<path d="M267.5,406.3 Q273.25,414.6 278.99,406.3 Q284.74,414.6 290.49,406.3 Q296.24,414.6 301.98,406.3 Q307.73,414.6 313.48,406.3 Q319.22,414.6 324.97,406.3 Q330.72,414.6 336.47,406.3 Q342.21,414.6 347.96,406.3 Q353.71,414.6 359.45,406.3 Q365.2,414.6 370.95,406.3 Q376.7,414.6 382.44,406.3 Q388.19,414.6 393.94,406.3 Q399.68,414.6 405.43,406.3 Q411.18,414.6 416.93,406.3 Q422.67,414.6 428.42,406.3 Q434.17,414.6 439.91,406.3 Q445.66,414.6 451.41,406.3 Q457.16,414.6 462.9,406.3 Q468.65,414.6 474.4,406.3 Q480.14,414.6 485.89,406.3 Q491.64,414.6 497.39,406.3 Q503.13,414.6 508.88,406.3 Q514.63,414.6 520.38,406.3 Q526.12,414.6 531.87,406.3 Q537.62,414.6 543.36,406.3 Q549.11,414.6 554.86,406.3 Q560.61,414.6 566.35,406.3 Q572.1,414.6 577.85,406.3 Q583.59,414.6 589.34,406.3 Q595.09,414.6 600.84,406.3 Q606.58,414.6 612.33,406.3 Q618.08,414.6 623.82,406.3 Q629.57,414.6 635.32,406.3 Q641.07,414.6 646.81,406.3 Q652.56,414.6 658.31,406.3 Q664.05,414.6 669.8,406.3 Q675.55,414.6 681.3,406.3 Q687.04,414.6 692.79,406.3 Q698.54,414.6 704.28,406.3 Q710.03,414.6 715.78,406.3 Q721.53,414.6 727.27,406.3 Q733.02,414.6 738.77,406.3 Q744.51,414.6 750.26,406.3 Q756.01,414.6 761.76,406.3 Q767.5,414.6 773.25,406.3" fill="none" stroke="#35B3A4" stroke-width="1.3" stroke-linejoin="miter"/>
<text x="334" y="433.3" font-size="8.3" font-weight="bold" fill="#2E2A2B" textLength="69" lengthAdjust="spacingAndGlyphs">Composition Formula</text>
<g font-size="4.5" fill="#4E4848">
<text x="334" y="442.5">Lorem ipsum dolor sit amet,</text>
<text x="334" y="447.21">consectetur adipiscing elit.</text>
<text x="334" y="451.92">Morbi fringilla sed neque vel iaculis.</text>
<text x="334" y="456.63">Sed nec varius diam. Sed urna massa,</text>
<text x="334" y="461.34">mattis et lectus ut, tristique placerat sem.</text>
<text x="334" y="466.05">Quisque condimentum vitae lacus vel</text>
<text x="334" y="470.76">rutrum. Ut ut eleifend leo. In laoreet nibh</text>
<text x="334" y="475.47">sit amet sem laoreet facilisis.</text>
</g>
<text x="331.6" y="499.6" font-size="8.3" font-weight="bold" fill="#2E2A2B" textLength="73.8" lengthAdjust="spacingAndGlyphs">The patient’s condition</text>
<g font-size="4.5" fill="#4E4848">
<text x="334" y="508.2">Lorem ipsum dolor sit amet,</text>
<text x="334" y="512.91">consectetur adipiscing elit.</text>
<text x="334" y="517.62">Morbi fringilla sed neque vel iaculis.</text>
<text x="334" y="522.33">Sed nec varius diam. Sed urna massa,</text>
<text x="334" y="527.04">mattis et lectus ut, tristique placerat sem.</text>
<text x="334" y="531.75">Quisque condimentum vitae lacus vel</text>
<text x="334" y="536.46">rutrum. Ut ut eleifend leo. In laoreet nibh</text>
<text x="334" y="541.17">sit amet sem laoreet facilisis.</text>
</g>
<text x="500" y="433.4" font-size="8.3" font-weight="bold" fill="#2E2A2B" textLength="49" lengthAdjust="spacingAndGlyphs">Treatment time</text>
<text x="500" y="447.4" font-size="9" fill="#555050" textLength="28" lengthAdjust="spacingAndGlyphs">~80 min</text>
<g font-size="4.5" fill="#4E4848">
<text x="500" y="456.5">Lorem ipsum dolor sit amet,</text>
<text x="500" y="461.21">consectetur adipiscing elit.</text>
<text x="500" y="465.92">Morbi fringilla sed neque vel iaculis.</text>
<text x="500" y="470.63">Sed nec varius diam.</text>
</g>
<text x="500" y="499.4" font-size="8.3" font-weight="bold" fill="#2E2A2B" textLength="68.4" lengthAdjust="spacingAndGlyphs">Rehabilitation period</text>
<text x="500" y="512.8" font-size="9" fill="#555050" textLength="31" lengthAdjust="spacingAndGlyphs">~30 days</text>
<g font-size="4.5" fill="#4E4848">
<text x="500" y="523">Lorem ipsum dolor sit amet,</text>
<text x="500" y="527.71">consectetur adipiscing elit.</text>
<text x="500" y="532.42">Morbi fringilla sed neque vel iaculis.</text>
<text x="500" y="537.13">Sed nec varius diam.</text>
</g>
<text x="657" y="433.7" font-size="8.3" font-weight="bold" fill="#2E2A2B" textLength="37" lengthAdjust="spacingAndGlyphs">Sunbathing</text>
<text x="657" y="447.2" font-size="9" fill="#555050" textLength="108" lengthAdjust="spacingAndGlyphs">Excluded during rehabilitation</text>
<g font-size="4.5" fill="#4E4848">
<text x="657" y="457">Lorem ipsum dolor sit amet,</text>
<text x="657" y="461.71">consectetur adipiscing elit.</text>
<text x="657" y="466.42">Morbi fringilla sed neque vel iaculis.</text>
<text x="657" y="471.13">Sed nec varius diam.</text>
</g>
<text x="657" y="499.8" font-size="8.3" font-weight="bold" fill="#2E2A2B" textLength="54.5" lengthAdjust="spacingAndGlyphs">Exposure to heat</text>
<text x="657" y="513.4" font-size="9" fill="#555050" textLength="108" lengthAdjust="spacingAndGlyphs">Excluded during rehabilitation</text>
<g font-size="4.5" fill="#4E4848">
<text x="657" y="522.9">Lorem ipsum dolor sit amet,</text>
<text x="657" y="527.61">consectetur adipiscing elit.</text>
<text x="657" y="532.32">Morbi fringilla sed neque vel iaculis.</text>
<text x="657" y="537.03">Sed nec varius diam.</text>
</g>
<g transform="translate(266.6,238.5) rotate(-50.4)">
<rect x="0" y="-2.8" width="47.2" height="5.6" fill="#C5127B" stroke="#4A0D33" stroke-width="1"/>
<rect x="1" y="-1.4" width="45" height="1.1" fill="#F07CC0"/>
<path d="M47.2,-2.8 L53,-1 L53,1 L47.2,2.8 Z" fill="#FBE9DC" stroke="#4A0D33" stroke-width="0.8" stroke-linejoin="round"/>
<path d="M53,-1 L56.2,0 L53,1 Z" fill="#C5127B" stroke="#4A0D33" stroke-width="0.6" stroke-linejoin="round"/>
</g>
<g transform="translate(368.3,234.9) rotate(-48.8)" stroke="#3A3A3C" stroke-linecap="round" stroke-linejoin="round">
<path d="M37,0 H53.1" stroke-width="0.9"/>
<path d="M0,0 H9" stroke-width="1.3"/>
<path d="M0,-3.4 V3.4" stroke-width="1.5"/>
<rect x="9" y="-2.5" width="10.5" height="5" fill="#6FA8D6" stroke-width="0.9"/>
<rect x="19.5" y="-2.5" width="15" height="5" fill="#D9E24B" stroke-width="0.9"/>
<path d="M8.8,-4.4 V4.4" stroke-width="1.5"/>
<path d="M22.5,-2.5 V-0.6 M25.5,-2.5 V-0.6 M28.5,-2.5 V-0.6 M31.5,-2.5 V-0.6" stroke-width="0.6"/>
<path d="M34.5,-1.8 L37.3,-0.7 V0.7 L34.5,1.8 Z" fill="#4A4A4C" stroke-width="0.6"/>
<path d="M10,-1.6 H18.5" stroke="#B7D7F0" stroke-width="0.9"/>
</g>
<path d="M504,194.2 C508,189.5 514,187.2 521,187.2 C530,187.2 538,190.5 543,196" fill="none" stroke="#6A1220" stroke-width="6" stroke-linecap="round"/>
<path d="M504,194.2 C508,189.5 514,187.2 521,187.2 C530,187.2 538,190.5 543,196" fill="none" stroke="#E5243B" stroke-width="4.6" stroke-linecap="round"/>
<path d="M504,194.2 C508,189.5 514,187.2 521,187.2 C530,187.2 538,190.5 543,196" fill="none" stroke="#FBD3D6" stroke-width="3.2" stroke-dasharray="0.9 2.1" stroke-dashoffset="-1"/>
<path d="M516.5,192.2 L526.5,192 L526.6,197.6 L523.4,196.4 L521.4,199.4 L518.6,196.8 L517,198 Z" fill="#F48FA5" stroke="#B0203A" stroke-width="0.7" stroke-linejoin="round"/>
<path d="M510,199.6 C511.2,201 511.4,202.6 510,202.9 C508.6,202.6 508.8,201 510,199.6 Z" fill="#C0182C"/>
<g transform="translate(470,237.7) rotate(-48.9)" stroke-linejoin="round">
<rect x="0" y="-2.9" width="41.7" height="5.8" rx="2.9" fill="#6EC1D8" stroke="#1E4A57" stroke-width="1.2"/>
<path d="M3,-0.9 H39" stroke="#BFE6F0" stroke-width="1" stroke-linecap="round"/>
<rect x="41.7" y="-1.5" width="4.6" height="3" fill="#DDE7EA" stroke="#1E4A57" stroke-width="0.9"/>
<path d="M46.3,-1.8 L54.6,-1.8 L57.2,1 L46.3,1.8 Z" fill="#F4F7F8" stroke="#2E3A40" stroke-width="0.9"/>
</g>
<g fill="none" stroke-linecap="round" stroke-linejoin="round">
<circle cx="557.9" cy="165.1" r="4.7" stroke="#2E2A2B" stroke-width="3.2"/>
<path d="M553.4,168.8 L530.6,185.6 L520.8,194.8" stroke="#2E2A2B" stroke-width="2.6"/>
<circle cx="557.9" cy="165.1" r="4.7" stroke="#5C6468" stroke-width="1.3"/>
<path d="M553.4,168.8 L531.6,184.9" stroke="#5C6468" stroke-width="0.9"/>
<circle cx="545.8" cy="155.7" r="4.7" stroke="#1E3A42" stroke-width="3.4"/>
<path d="M543,161.6 L528.2,187.4 L528.6,195.6" stroke="#1E3A42" stroke-width="3.3"/>
<circle cx="545.8" cy="155.7" r="4.7" stroke="#4F9AA6" stroke-width="1.7"/>
<path d="M543,161.6 L528.2,187.4 L528.6,195.6" stroke="#4F9AA6" stroke-width="1.7"/>
</g>
<path d="M608.8,190.6 C614,188.6 622,188.4 629,189.4 C635,190.4 640,193 643,196.4" fill="none" stroke="#2E2A2B" stroke-width="1.3" stroke-linecap="round"/>
<path d="M615,186.8 L615.6,191.4 M620,186.2 L620.4,191 M625,186.4 L624.8,191.2 M630,187.2 L629.2,192 M634.6,188.8 L633,193.2 M638.8,191 L636.6,195 M642,193.8 L639.6,197" stroke="#3B9BC8" stroke-width="1.1" stroke-linecap="round"/>
<path d="M576.3,229.9 L611.6,189" stroke="#4A4A4C" stroke-width="2.6" stroke-linecap="round"/>
<path d="M576.6,229.6 L611.3,189.4" stroke="#E9E9EA" stroke-width="1.2" stroke-linecap="round"/>
<path d="M611,189.2 C607,189.6 603.6,192.6 602.6,197 C601.6,201.6 603.4,205 605.2,207.6 C607,210.4 604.6,213.4 601.4,216 C598,218.8 596,221.6 597,224.4 C597.6,226 598,226.6 598.4,227.6" fill="none" stroke="#3B9BC8" stroke-width="1.3" stroke-linecap="round"/>
<g fill="none" stroke-linecap="round" stroke-linejoin="round">
<path d="M294.9,464.4 H315.6 M292.8,468.9 H311.8 M313.6,468.9 H315" stroke="#2E2A2B" stroke-width="1.3"/>
<circle cx="290.1" cy="429.7" r="4.2" stroke="#3E3A3B" stroke-width="2.4"/>
<path d="M286.4,433.6 L280,458.8" stroke="#3E3A3B" stroke-width="2.2"/>
<path d="M286.4,433.6 L280,458.8" stroke="#D8D0C8" stroke-width="0.6"/>
<path d="M280.4,458 L278.6,465 L276.2,470.2 L277.4,464 Z" fill="#3E3A3B" stroke="#3E3A3B" stroke-width="1"/>
<circle cx="274.7" cy="429.1" r="4.2" stroke="#1E3A42" stroke-width="2.9"/>
<path d="M277.8,433.6 L279.6,458.8 L284.8,467.8" stroke="#1E3A42" stroke-width="3.2"/>
<circle cx="274.7" cy="429.1" r="4.2" stroke="#4F8F98" stroke-width="1.4"/>
<path d="M277.8,433.6 L279.6,458.8 L284.8,467.8" stroke="#4F8F98" stroke-width="1.7"/>
</g>
<g transform="translate(325.6,435) rotate(138.97)" stroke-linejoin="round">
<rect x="0" y="-2.4" width="39.72" height="4.8" rx="2.4" fill="#5DB8CC" stroke="#1E4A57" stroke-width="1.1"/>
<path d="M2.5,0.8 H36.72" stroke="#A8DDE8" stroke-width="0.8" stroke-linecap="round"/>
<rect x="39.72" y="-1" width="4.5" height="2" fill="#DDE7EA" stroke="#1E4A57" stroke-width="0.8"/>
<path d="M44.22,-1.3 L52.58,-1.3 L54.08,1.3 L44.22,1.3 Z" fill="#F4F7F8" stroke="#2E3A40" stroke-width="0.9"/>
</g>
<path d="M302,524 H315 M293.3,528.4 H312.5 M313.8,528.4 H315" stroke="#2E2A2B" stroke-width="1.3" stroke-linecap="round" fill="none"/>
<path d="M293.2,503.2 C290.5,498.6 285.5,497.4 281.2,498.8 C275.6,500.8 272.8,507 275.4,513 C278.2,519.2 286.4,524.4 293.2,528.2 C300,524.4 308.2,519.2 311,513 C313.6,507 310.8,500.8 305.2,498.8 C300.9,497.4 295.9,498.6 293.2,503.2 Z" fill="#E01A4F" stroke="#3A1520" stroke-width="1.4" stroke-linejoin="round"/>
<path d="M276.6,512.6 L278.6,510.6 L279.8,512.4 L281.4,509.4 L282.8,511.6 L284.4,507.6 L286.2,512.6 L288.2,512.4 L289.6,510.2 L291,512.2 L292.6,509.4 L294.2,512 L295.8,509.8 L297.4,513 L298.8,517.4 L300.6,512.4 L302,515.2 L303.4,511.2 L304.8,515.6 L306.6,508.8 L308,513.4 L309.4,510.6 L310.4,512" fill="none" stroke="#fff" stroke-width="1.15" stroke-linejoin="round" stroke-linecap="round"/>
<path d="M466,465 H473.8 M462,468.7 H470.6 M472,468.7 H472.9" stroke="#2E2A2B" stroke-width="1.3" stroke-linecap="round" fill="none"/>
<circle cx="474.3" cy="436.5" r="8.3" fill="#FAF1E8" stroke="#2E2A2B" stroke-width="1.3"/>
<g transform="translate(453.8,452.1) rotate(52)">
<rect x="-1.7" y="-24" width="3.4" height="8" fill="#1583CC" stroke="#16324A" stroke-width="1"/>
<rect x="-4.4" y="-29" width="8.8" height="5" fill="#7CC3EA" stroke="#16324A" stroke-width="1"/>
</g>
<rect x="451.9" y="431.4" width="3.9" height="6" fill="#1583CC" stroke="#16324A" stroke-width="1"/>
<rect x="449.4" y="427.8" width="9.2" height="4.3" fill="#7CC3EA" stroke="#16324A" stroke-width="1"/>
<circle cx="453.8" cy="452.1" r="16" fill="#1583CC" stroke="#16324A" stroke-width="1.5"/>
<circle cx="453.8" cy="452.1" r="10.8" fill="#fff" stroke="#16324A" stroke-width="1.5"/>
<circle cx="453.8" cy="452.1" r="8.6" fill="none" stroke="#3E3A3B" stroke-width="2" stroke-dasharray="0.7 1.55"/>
<path d="M453.8,445.4 V452.1 H460" fill="none" stroke="#2E2A2B" stroke-width="1.1" stroke-linecap="round"/>
<circle cx="453.8" cy="452.1" r="1.6" fill="#fff" stroke="#2E2A2B" stroke-width="0.9"/>
<path d="M475.6,524 H494.4 M477,528.6 H490.6 M492.6,528.6 H494" stroke="#2E2A2B" stroke-width="1.3" stroke-linecap="round" fill="none"/>
<g fill="#A6D8F2" stroke="#2E2A2B" stroke-width="1.4" stroke-linejoin="round">
<rect x="434" y="518" width="36" height="4"/>
<rect x="428" y="507" width="6.4" height="22" rx="3.2"/>
<rect x="469.4" y="507" width="6.4" height="22" rx="3.2"/>
<path d="M435.6,513.2 C439,508.4 447,508.2 450.8,513 C447,517.8 439,517.8 435.6,513.2 Z"/>
</g>
<g transform="translate(615.9,441.2)">
<g stroke="#2E2A2B" stroke-width="1.4" stroke-linecap="round">
<path transform="rotate(0)" d="M0,-12.9 V-18.8 M0,-22.3 V-23.5"/>
<path transform="rotate(30)" d="M0,-12.9 V-18.8 M0,-22.3 V-23.5"/>
<path transform="rotate(60)" d="M0,-12.9 V-18.8 M0,-22.3 V-23.5"/>
<path transform="rotate(90)" d="M0,-12.9 V-18.8 M0,-22.3 V-23.5"/>
<path transform="rotate(120)" d="M0,-12.9 V-18.8 M0,-22.3 V-23.5"/>
<path transform="rotate(150)" d="M0,-12.9 V-18.8 M0,-22.3 V-23.5"/>
<path transform="rotate(180)" d="M0,-12.9 V-18.8 M0,-22.3 V-23.5"/>
<path transform="rotate(210)" d="M0,-12.9 V-18.8 M0,-22.3 V-23.5"/>
<path transform="rotate(240)" d="M0,-12.9 V-18.8 M0,-22.3 V-23.5"/>
<path transform="rotate(270)" d="M0,-12.9 V-18.8 M0,-22.3 V-23.5"/>
<path transform="rotate(300)" d="M0,-12.9 V-18.8 M0,-22.3 V-23.5"/>
<path transform="rotate(330)" d="M0,-12.9 V-18.8 M0,-22.3 V-23.5"/>
</g>
<circle r="8.3" fill="#F7820E" stroke="#3B2314" stroke-width="1.4"/>
<path d="M-1,-5.2 C-5.2,-3.6 -5.8,2.2 -2.2,4.8 C-4,1.6 -3.4,-2.6 -1,-5.2 Z" fill="#FDB92E"/>
<circle r="4.2" cx="0.6" cy="0.2" fill="none" stroke="#FBA21C" stroke-width="1.2" stroke-dasharray="9 30"/>
</g>
<path d="M623.3,524.2 H642.2 M623.3,528.1 H638.3 M640.4,528.1 H642" stroke="#2E2A2B" stroke-width="1.3" stroke-linecap="round" fill="none"/>
<rect x="610.9" y="486" width="11.8" height="41.4" rx="3" fill="#A8D8F4" stroke="#2E2A2B" stroke-width="1.6"/>
<path d="M617.3,489.8 V522.6" stroke="#B01C24" stroke-width="1.5" stroke-linecap="round"/>
<path d="M618.6,492 H620.4 M618.6,498 H620.4 M618.6,503.4 H620.4 M618.6,509 H620.4 M618.6,515.4 H620.4 M618.6,519.8 H620.4" stroke="#2E2A2B" stroke-width="0.7"/>
</svg></body></html>
